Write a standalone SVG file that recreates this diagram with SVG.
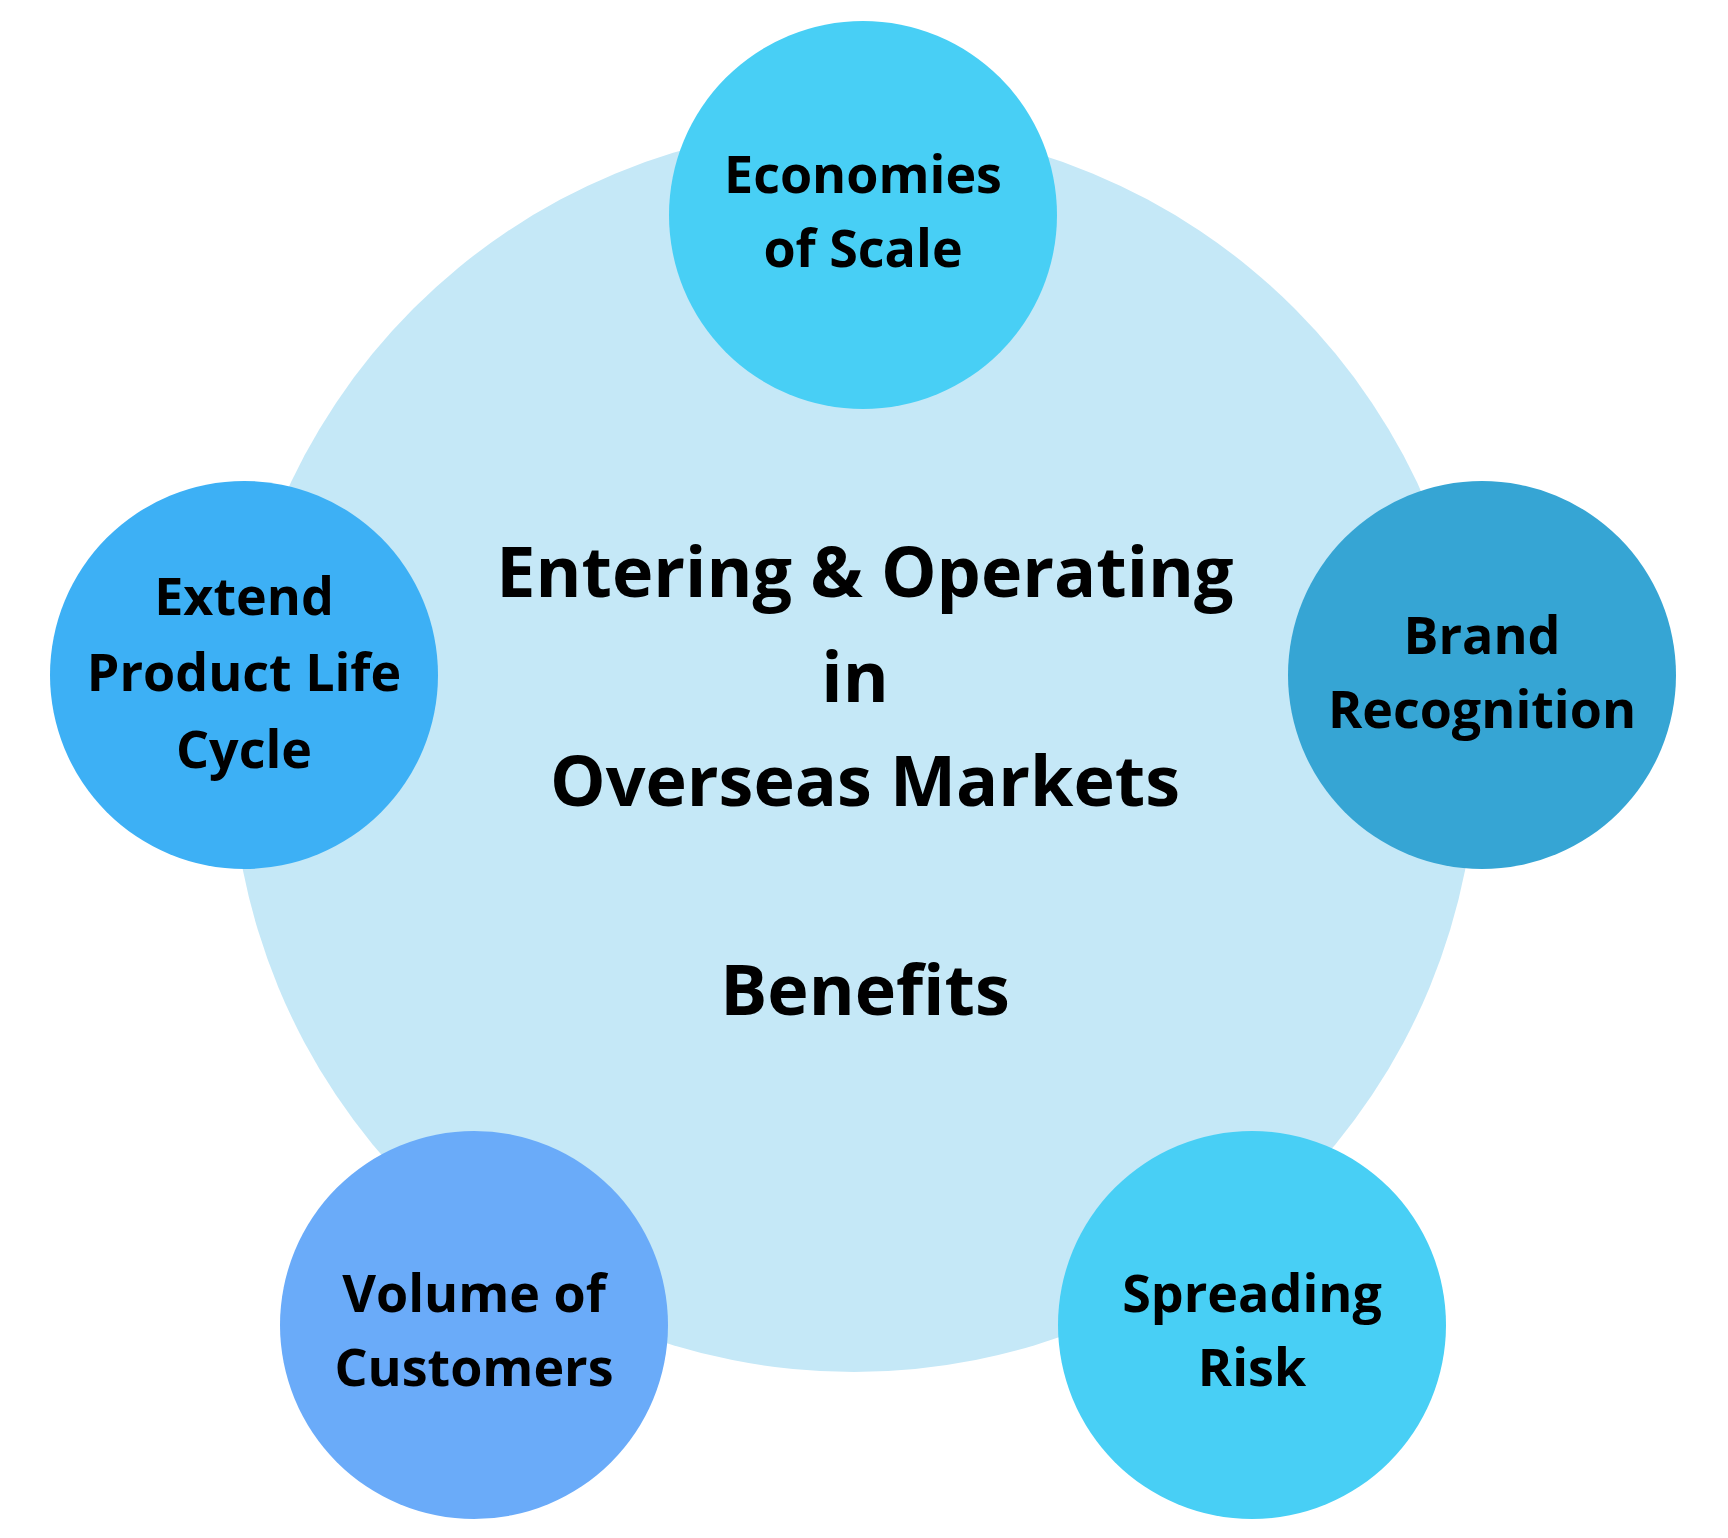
<svg xmlns="http://www.w3.org/2000/svg" width="1728" height="1538" viewBox="0 0 1728 1538">
<style>
.t{font-family:"Open Sans","Noto Sans","Liberation Sans",sans-serif;font-weight:bold;fill:#000;text-anchor:middle}
.s{font-size:52px}
.b{font-size:70px}
</style>
<rect width="1728" height="1538" fill="#fff"/>
<g id="center">
<circle cx="854" cy="749" r="623" fill="#C5E8F7"/>
<text class="t b" x="865" y="597">Entering &amp; Operating</text>
<text class="t b" x="855" y="702">in</text>
<text class="t b" x="865" y="806">Overseas Markets</text>
<text class="t b" x="865" y="1015">Benefits</text>
</g>
<g id="connectors"></g>
<g id="economies">
<circle cx="863" cy="215" r="194" fill="#48CFF5"/>
<text class="t s" x="863" y="193">Economies</text>
<text class="t s" x="863" y="267">of Scale</text>
</g>
<g id="extend">
<circle cx="244" cy="675" r="194" fill="#3DB0F5"/>
<text class="t s" x="244" y="615">Extend</text>
<text class="t s" x="244" y="691">Product Life</text>
<text class="t s" x="244" y="768">Cycle</text>
</g>
<g id="brand">
<circle cx="1482" cy="675" r="194" fill="#36A5D4"/>
<text class="t s" x="1482" y="654">Brand</text>
<text class="t s" x="1482" y="728">Recognition</text>
</g>
<g id="volume">
<circle cx="474" cy="1325" r="194" fill="#6AABF9"/>
<text class="t s" x="474" y="1312">Volume of</text>
<text class="t s" x="474" y="1386">Customers</text>
</g>
<g id="spreading">
<circle cx="1252" cy="1325" r="194" fill="#48CFF5"/>
<text class="t s" x="1252" y="1312">Spreading</text>
<text class="t s" x="1252" y="1386">Risk</text>
</g>
</svg>
